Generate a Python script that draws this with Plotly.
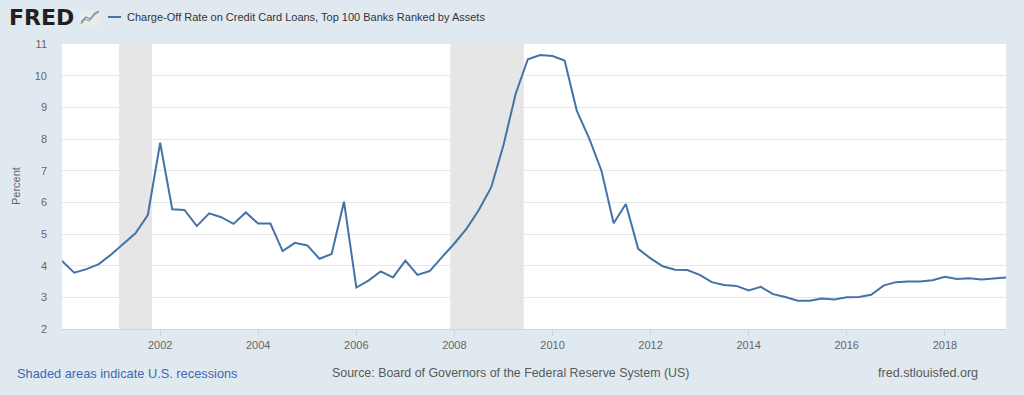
import plotly.graph_objects as go
import pandas as pd

# Quarterly data, 2000Q1 - 2019Q2
dates = pd.date_range("2000-01-01", "2019-04-01", freq="QS").strftime("%Y-%m-%d").tolist()
values = [
    4.15, 3.78, 3.89, 4.05,   # 2000
    4.35, 4.68, 5.02, 5.60,   # 2001
    7.88, 5.78, 5.76, 5.25,   # 2002
    5.65, 5.53, 5.32, 5.68,   # 2003
    5.33, 5.33, 4.46, 4.72,   # 2004
    4.64, 4.22, 4.37, 6.02,   # 2005
    3.31, 3.53, 3.82, 3.63,   # 2006
    4.16, 3.71, 3.83, 4.27,   # 2007
    4.70, 5.17, 5.76, 6.47,   # 2008
    7.81, 9.42, 10.52, 10.65, # 2009
    10.62, 10.48, 8.89, 8.02, # 2010
    6.99, 5.34, 5.95, 4.53,   # 2011
    4.23, 3.98, 3.87, 3.86,   # 2012
    3.71, 3.48, 3.39, 3.36,   # 2013
    3.22, 3.33, 3.10, 3.01,   # 2014
    2.89, 2.89, 2.96, 2.93,   # 2015
    3.00, 3.01, 3.08, 3.37,   # 2016
    3.48, 3.50, 3.50, 3.54,   # 2017
    3.65, 3.58, 3.60, 3.56,   # 2018
    3.60, 3.63,               # 2019
]
recession_starts = ["2001-03-01", "2007-12-01"]
recession_ends = ["2001-11-01", "2009-06-01"]
tick_years = ["2002", "2004", "2006", "2008", "2010", "2012", "2014", "2016", "2018"]

title_text = "Charge-Off Rate on Credit Card Loans, Top 100 Banks Ranked by Assets"
y_title = "Percent"
footer_left = "Shaded areas indicate U.S. recessions"
footer_mid = "Source: Board of Governors of the Federal Reserve System (US)"
footer_right = "fred.stlouisfed.org"

W, H = 1024, 395
ML, MR, MT, MB = 62, 18, 44, 66
PW, PH = W - ML - MR, H - MT - MB

def px(x):
    return (x - ML) / PW

def py(y):
    return (H - MB - y) / PH

FONT = "Liberation Sans, Arial, sans-serif"
LINE = "#4572a7"

fig = go.Figure()
fig.add_trace(go.Scatter(x=dates, y=values, mode="lines",
                         line=dict(color=LINE, width=2), showlegend=False,
                         hoverinfo="x+y"))

shapes = []
for s, e in zip(recession_starts, recession_ends):
    shapes.append(dict(type="rect", xref="x", yref="paper", x0=s, x1=e, y0=0, y1=1,
                       fillcolor="#e6e6e6", line=dict(width=0), layer="below"))

# logo icon
shapes.append(dict(type="rect", xref="paper", yref="paper",
                   x0=px(80), x1=px(100), y0=py(26), y1=py(10),
                   fillcolor="#e8ecef", line=dict(width=0)))
shapes.append(dict(type="path", xref="paper", yref="paper",
                   path=f"M {px(81)},{py(24)} L {px(85)},{py(19)} L {px(89)},{py(21)} L {px(94)},{py(15)} L {px(99)},{py(12)}",
                   line=dict(color="#8fbf5a", width=1.3)))
shapes.append(dict(type="path", xref="paper", yref="paper",
                   path=f"M {px(81)},{py(22)} L {px(86)},{py(17)} L {px(90)},{py(19)} L {px(95)},{py(13)} L {px(99)},{py(11)}",
                   line=dict(color="#6b8fbf", width=1.1)))
# legend line
shapes.append(dict(type="line", xref="paper", yref="paper",
                   x0=px(108), x1=px(121), y0=py(17), y1=py(17),
                   line=dict(color=LINE, width=2)))

annotations = [
    dict(text="<b>FRED</b>", x=px(7), y=py(17.5), xref="paper", yref="paper",
         xanchor="left", yanchor="middle", showarrow=False,
         font=dict(family="DejaVu Sans", size=22, color="#231f20")),
    dict(text=title_text, x=px(125), y=py(17), xref="paper", yref="paper",
         xanchor="left", yanchor="middle", showarrow=False,
         font=dict(family=FONT, size=11, color="#333333")),
    dict(text=y_title, x=px(16), y=py(186), xref="paper", yref="paper",
         xanchor="center", yanchor="middle", showarrow=False, textangle=-90,
         font=dict(family=FONT, size=11, color="#666666")),
    dict(text=footer_left, x=px(15), y=py(373), xref="paper", yref="paper",
         xanchor="left", yanchor="middle", showarrow=False,
         font=dict(family=FONT, size=12.8, color="#3a6ab0")),
    dict(text=footer_mid, x=px(330), y=py(373), xref="paper", yref="paper",
         xanchor="left", yanchor="middle", showarrow=False,
         font=dict(family=FONT, size=12.4, color="#595959")),
    dict(text=footer_right, x=px(980), y=py(373), xref="paper", yref="paper",
         xanchor="right", yanchor="middle", showarrow=False,
         font=dict(family=FONT, size=12.6, color="#595959")),
]

fig.update_layout(
    width=W, height=H,
    margin=dict(l=ML, r=MR, t=MT, b=MB, pad=0),
    paper_bgcolor="#e1e9f0",
    plot_bgcolor="#ffffff",
    shapes=shapes,
    annotations=annotations,
    showlegend=False,
    xaxis=dict(type="date", range=["2000-01-01", "2019-04-01"],
               tickvals=[f"{y}-01-01" for y in tick_years], ticktext=tick_years,
               showgrid=False, showline=True, linecolor="#ccd6eb", linewidth=1,
               ticks="outside", ticklen=6, tickcolor="#ccd6eb",
               tickfont=dict(family=FONT, size=11, color="#666666"),
               zeroline=False, fixedrange=True),
    yaxis=dict(range=[2, 11], dtick=1, showgrid=True, gridcolor="#e6e6e6",
               gridwidth=1, zeroline=False, showline=False,
               ticks="", ticklabelstandoff=14,
               tickfont=dict(family=FONT, size=11, color="#666666"),
               fixedrange=True),
)

fig.write_html("out.html", config={"displayModeBar": False},
               post_script="document.body.style.margin='0';document.body.style.padding='0';")
